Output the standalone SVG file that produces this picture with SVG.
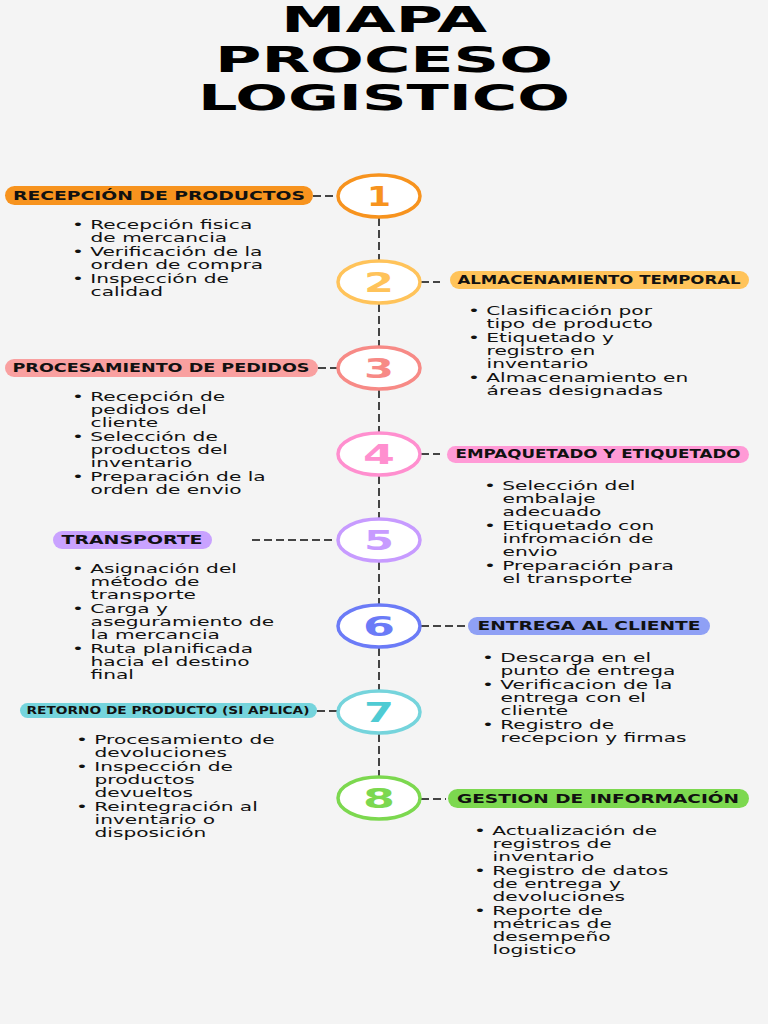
<svg xmlns="http://www.w3.org/2000/svg" width="768" height="1024" viewBox="0 0 768 1024">
<style>
.t{font-family:"DejaVu Sans",sans-serif;font-weight:bold;font-size:35px;fill:#000;text-anchor:middle}
.c{fill:#fff;stroke-width:3.5}
.n{font-family:"DejaVu Sans",sans-serif;font-weight:bold;font-size:27px;text-anchor:middle}
.p{font-family:"DejaVu Sans",sans-serif;font-weight:bold;font-size:12px;fill:#111;text-anchor:middle}
.b{font-family:"DejaVu Sans",sans-serif;font-size:13px;fill:#111}
.d{stroke:#444;stroke-width:2;stroke-dasharray:8,4;fill:none}
</style>
<rect width="768" height="1024" fill="#f4f4f4"/>
<text class="t" x="384" y="32" textLength="206" lengthAdjust="spacingAndGlyphs">MAPA</text>
<text class="t" x="384" y="72" textLength="338" lengthAdjust="spacingAndGlyphs">PROCESO</text>
<text class="t" x="384" y="110" textLength="372" lengthAdjust="spacingAndGlyphs">LOGISTICO</text>
<g id="connectors">
<path class="d" d="M379 218V260M379 304V346M379 390V432M379 476V518M379 562V604M379 648V690M379 734V776"/>
<path class="d" d="M313 196H337M421 282H440M318 368H337M421 454H440M252 540H335M421 626H465M317 711H337M421 799H446"/>
</g>
<g id="n1"><ellipse class="c" cx="379" cy="196" rx="41" ry="21" stroke="#F7931E"/><text class="n" x="379" y="206" fill="#F7931E" textLength="24" lengthAdjust="spacingAndGlyphs">1</text>
<rect x="5" y="186" width="308" height="19" rx="9.5" fill="#F7931E"/><text class="p" x="159" y="200" textLength="292" lengthAdjust="spacingAndGlyphs">RECEPCIÓN DE PRODUCTOS</text>
<text class="b" transform="translate(72 0) scale(1.55 1)"><tspan x="0" y="229">• Recepción fisica</tspan><tspan x="12" y="242">de mercancia</tspan><tspan x="0" y="256">• Verificación de la</tspan><tspan x="12" y="269">orden de compra</tspan><tspan x="0" y="283">• Inspección de</tspan><tspan x="12" y="296">calidad</tspan></text></g>
<g id="n2"><ellipse class="c" cx="379" cy="282" rx="41" ry="21" stroke="#FFC35A"/><text class="n" x="379" y="292" fill="#FFC35A" textLength="30" lengthAdjust="spacingAndGlyphs">2</text>
<rect x="450" y="271" width="299" height="18" rx="9" fill="#FFC35A"/><text class="p" x="599" y="284" textLength="283" lengthAdjust="spacingAndGlyphs">ALMACENAMIENTO TEMPORAL</text>
<text class="b" transform="translate(468 0) scale(1.55 1)"><tspan x="0" y="315">• Clasificación por</tspan><tspan x="12" y="328">tipo de producto</tspan><tspan x="0" y="342">• Etiquetado y</tspan><tspan x="12" y="355">registro en</tspan><tspan x="12" y="368">inventario</tspan><tspan x="0" y="382">• Almacenamiento en</tspan><tspan x="12" y="395">áreas designadas</tspan></text></g>
<g id="n3"><ellipse class="c" cx="379" cy="368" rx="41" ry="21" stroke="#F78A86"/><text class="n" x="379" y="378" fill="#F78A86" textLength="30" lengthAdjust="spacingAndGlyphs">3</text>
<rect x="5" y="359" width="313" height="18" rx="9" fill="#F9A0A0"/><text class="p" x="161" y="372" textLength="297" lengthAdjust="spacingAndGlyphs">PROCESAMIENTO DE PEDIDOS</text>
<text class="b" transform="translate(72 0) scale(1.55 1)"><tspan x="0" y="401">• Recepción de</tspan><tspan x="12" y="414">pedidos del</tspan><tspan x="12" y="427">cliente</tspan><tspan x="0" y="441">• Selección de</tspan><tspan x="12" y="454">productos del</tspan><tspan x="12" y="467">inventario</tspan><tspan x="0" y="481">• Preparación de la</tspan><tspan x="12" y="494">orden de envio</tspan></text></g>
<g id="n4"><ellipse class="c" cx="379" cy="454" rx="41" ry="21" stroke="#FF8FCF"/><text class="n" x="379" y="464" fill="#FF8FCF" textLength="32" lengthAdjust="spacingAndGlyphs">4</text>
<rect x="447" y="446" width="302" height="17" rx="8.5" fill="#FF9AD6"/><text class="p" x="598" y="458" textLength="285" lengthAdjust="spacingAndGlyphs">EMPAQUETADO Y ETIQUETADO</text>
<text class="b" transform="translate(484 0) scale(1.55 1)"><tspan x="0" y="490">• Selección del</tspan><tspan x="12" y="503">embalaje</tspan><tspan x="12" y="516">adecuado</tspan><tspan x="0" y="530">• Etiquetado con</tspan><tspan x="12" y="543">infromación de</tspan><tspan x="12" y="556">envio</tspan><tspan x="0" y="570">• Preparación para</tspan><tspan x="12" y="583">el transporte</tspan></text></g>
<g id="n5"><ellipse class="c" cx="379" cy="540" rx="41" ry="21" stroke="#C79BFF"/><text class="n" x="379" y="550" fill="#C79BFF" textLength="30" lengthAdjust="spacingAndGlyphs">5</text>
<rect x="53" y="531" width="159" height="18" rx="9" fill="#C9A2FF"/><text class="p" x="132" y="544" textLength="141" lengthAdjust="spacingAndGlyphs">TRANSPORTE</text>
<text class="b" transform="translate(72 0) scale(1.55 1)"><tspan x="0" y="573">• Asignación del</tspan><tspan x="12" y="586">método de</tspan><tspan x="12" y="599">transporte</tspan><tspan x="0" y="613">• Carga y</tspan><tspan x="12" y="626">aseguramiento de</tspan><tspan x="12" y="639">la mercancia</tspan><tspan x="0" y="653">• Ruta planificada</tspan><tspan x="12" y="666">hacia el destino</tspan><tspan x="12" y="679">final</tspan></text></g>
<g id="n6"><ellipse class="c" cx="379" cy="626" rx="41" ry="21" stroke="#6B7BF7"/><text class="n" x="379" y="636" fill="#6B7BF7" textLength="32" lengthAdjust="spacingAndGlyphs">6</text>
<rect x="468" y="617" width="242" height="18" rx="9" fill="#8FA0F5"/><text class="p" x="589" y="630" textLength="223" lengthAdjust="spacingAndGlyphs">ENTREGA AL CLIENTE</text>
<text class="b" transform="translate(482 0) scale(1.55 1)"><tspan x="0" y="662">• Descarga en el</tspan><tspan x="12" y="675">punto de entrega</tspan><tspan x="0" y="689">• Verificacion de la</tspan><tspan x="12" y="702">entrega con el</tspan><tspan x="12" y="715">cliente</tspan><tspan x="0" y="729">• Registro de</tspan><tspan x="12" y="742">recepcion y firmas</tspan></text></g>
<g id="n7"><ellipse class="c" cx="379" cy="712" rx="41" ry="21" stroke="#75D4DC"/><text class="n" x="379" y="722" fill="#4FCBD3" textLength="30" lengthAdjust="spacingAndGlyphs">7</text>
<rect x="20" y="703" width="297" height="15" rx="7.5" fill="#75D4DC"/><text class="p" x="168" y="714" style="font-size:10px" textLength="283" lengthAdjust="spacingAndGlyphs">RETORNO DE PRODUCTO (SI APLICA)</text>
<text class="b" transform="translate(76 0) scale(1.55 1)"><tspan x="0" y="744">• Procesamiento de</tspan><tspan x="12" y="757">devoluciones</tspan><tspan x="0" y="771">• Inspección de</tspan><tspan x="12" y="784">productos</tspan><tspan x="12" y="797">devueltos</tspan><tspan x="0" y="811">• Reintegración al</tspan><tspan x="12" y="824">inventario o</tspan><tspan x="12" y="837">disposición</tspan></text></g>
<g id="n8"><ellipse class="c" cx="379" cy="798" rx="41" ry="21" stroke="#7CD84F"/><text class="n" x="379" y="808" fill="#7CD84F" textLength="32" lengthAdjust="spacingAndGlyphs">8</text>
<rect x="448" y="789" width="301" height="19" rx="9.5" fill="#7CD84F"/><text class="p" x="598" y="803" style="font-size:13px" textLength="282" lengthAdjust="spacingAndGlyphs">GESTION DE INFORMACIÓN</text>
<text class="b" transform="translate(474 0) scale(1.55 1)"><tspan x="0" y="835">• Actualización de</tspan><tspan x="12" y="848">registros de</tspan><tspan x="12" y="861">inventario</tspan><tspan x="0" y="875">• Registro de datos</tspan><tspan x="12" y="888">de entrega y</tspan><tspan x="12" y="901">devoluciones</tspan><tspan x="0" y="915">• Reporte de</tspan><tspan x="12" y="928">métricas de</tspan><tspan x="12" y="941">desempeño</tspan><tspan x="12" y="954">logistico</tspan></text></g>
</svg>
